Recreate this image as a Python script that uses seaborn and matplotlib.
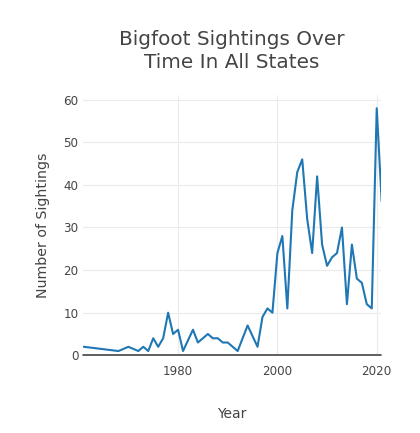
import matplotlib
matplotlib.use("Agg")
import matplotlib.pyplot as plt
import seaborn as sns
import pandas as pd

years = [1961, 1968, 1970, 1972, 1973, 1974, 1975, 1976, 1977, 1978, 1979, 1980,
         1981, 1983, 1984, 1986, 1987, 1988, 1989, 1990, 1992, 1994, 1996, 1997,
         1998, 1999, 2000, 2001, 2002, 2003, 2004, 2005, 2006, 2007, 2008, 2009,
         2010, 2011, 2012, 2013, 2014, 2015, 2016, 2017, 2018, 2019, 2020, 2021]
sightings = [2, 1, 2, 1, 2, 1, 4, 2, 4, 10, 5, 6,
             1, 6, 3, 5, 4, 4, 3, 3, 1, 7, 2, 9,
             11, 10, 24, 28, 11, 34, 43, 46, 32, 24, 42, 26,
             21, 23, 24, 30, 12, 26, 18, 17, 12, 11, 58, 36]

df = pd.DataFrame({"Year": years, "Number of Sightings": sightings})

sns.set_theme(style="white")
plt.rcParams['font.family'] = ['DejaVu Sans']

W, H = 420, 433
fig = plt.figure(figsize=(W / 100, H / 100), dpi=100)
left, right, top, bottom = 82.7, 380.7, 95, 355.3
ax = fig.add_axes([left / W, 1 - bottom / H, (right - left) / W, (bottom - top) / H])

sns.lineplot(data=df, x="Year", y="Number of Sightings", ax=ax,
             color="#1f77b4", linewidth=1.5, zorder=3)

ax.set_xlim(1960.8, 2020.8)
ax.set_ylim(0, 61.1)
ax.set_xticks([1980, 2000, 2020])
ax.set_yticks([0, 10, 20, 30, 40, 50, 60])
ax.grid(True, color="#ebebeb", linewidth=0.8)
ax.axhline(0, color="#444444", linewidth=1.2, zorder=4, clip_on=False)
for s in ax.spines.values():
    s.set_visible(False)
ax.tick_params(axis="both", length=0, labelsize=8.6, colors="#444444")
ax.tick_params(axis="x", pad=7)
ax.tick_params(axis="y", pad=3)

ax.set_xlabel("Year", fontsize=10, color="#444444", labelpad=21)
ax.set_ylabel("Number of Sightings", fontsize=10.2, color="#444444", labelpad=10)

fig.text((left + right) / 2 / W, 1 - 51 / H, "Bigfoot Sightings Over\nTime In All States",
         ha="center", va="center", fontsize=14.4, color="#444444", linespacing=1.25)

fig.savefig("out.png", dpi=100)
